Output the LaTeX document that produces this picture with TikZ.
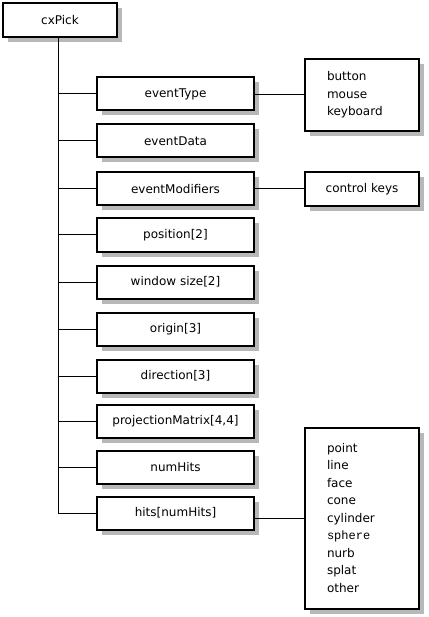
\documentclass[tikz,border=0pt]{standalone}
\usepackage{fontspec}
\setmainfont{DejaVu Sans}
\newfontfamily\courier{Liberation Mono}
\usepackage{tikz}
\usetikzlibrary{shadows}
\usetikzlibrary{calc}
\tikzstyle{box}=[draw,line width=2pt,fill=white,inner sep=0pt,font=\fontsize{12}{17.5}\selectfont,drop shadow={shadow xshift=5pt,shadow yshift=-5pt,fill=black!28,opacity=1}]
\tikzstyle{field}=[box,minimum width=157pt,minimum height=33pt]
\tikzstyle{choices}=[box,align=left,text width=70pt,inner xsep=22pt]
\tikzstyle{treeedge} = [draw,line width=1pt]

\begin{document}
\begin{tikzpicture}[x=1pt,y=-1pt]

    \useasboundingbox (0,0) rectangle (428,617);

    \node[box,minimum width=114pt,minimum height=34pt] (cxPick) at (60,20) {cxPick};

    \foreach \y/ \name/ \txt in {94/evtype/eventType, 141/evdata/eventData, 189/evmods/eventModifiers, 235/pos/{position[2]}, 282/winsize/{window size[2]}, 329/origin/{origin[3]}, 376/dir/{direction[3]}, 421/projmat/{projectionMatrix[4,4]}, 467/numhits/numHits, 513/hits/{hits[numHits]}}
        \node[field] (\name) at (175.5,\y) {\txt};

    \node[choices,minimum height=72pt] (inputs) at (362,95) {button\\mouse\\keyboard};
    \node[box,minimum width=114pt,minimum height=34pt] (keys) at (362,189) {control keys};
    \node[choices,minimum height=181pt] (hittypes) at (362,518) {point\\line\\face\\cone\\cylinder\\{\courier sphere}\\nurb\\splat\\other};

    % trunk and branches
    \coordinate (trunk) at ([xshift=-2pt]cxPick.south);
    \path[treeedge] (trunk) -- (trunk |- hits.west);
    \foreach \name in {evtype,evdata,evmods,pos,winsize,origin,dir,projmat,numhits,hits}
        \path[treeedge] (trunk |- \name.west) -- (\name.west);

    \path[treeedge] (inputs.west) -- (inputs.west -| evtype.east);
    \path[treeedge] (keys.west) -- (keys.west -| evmods.east);
    \path[treeedge] (hittypes.west) -- (hittypes.west -| hits.east);

\end{tikzpicture}
\end{document}
